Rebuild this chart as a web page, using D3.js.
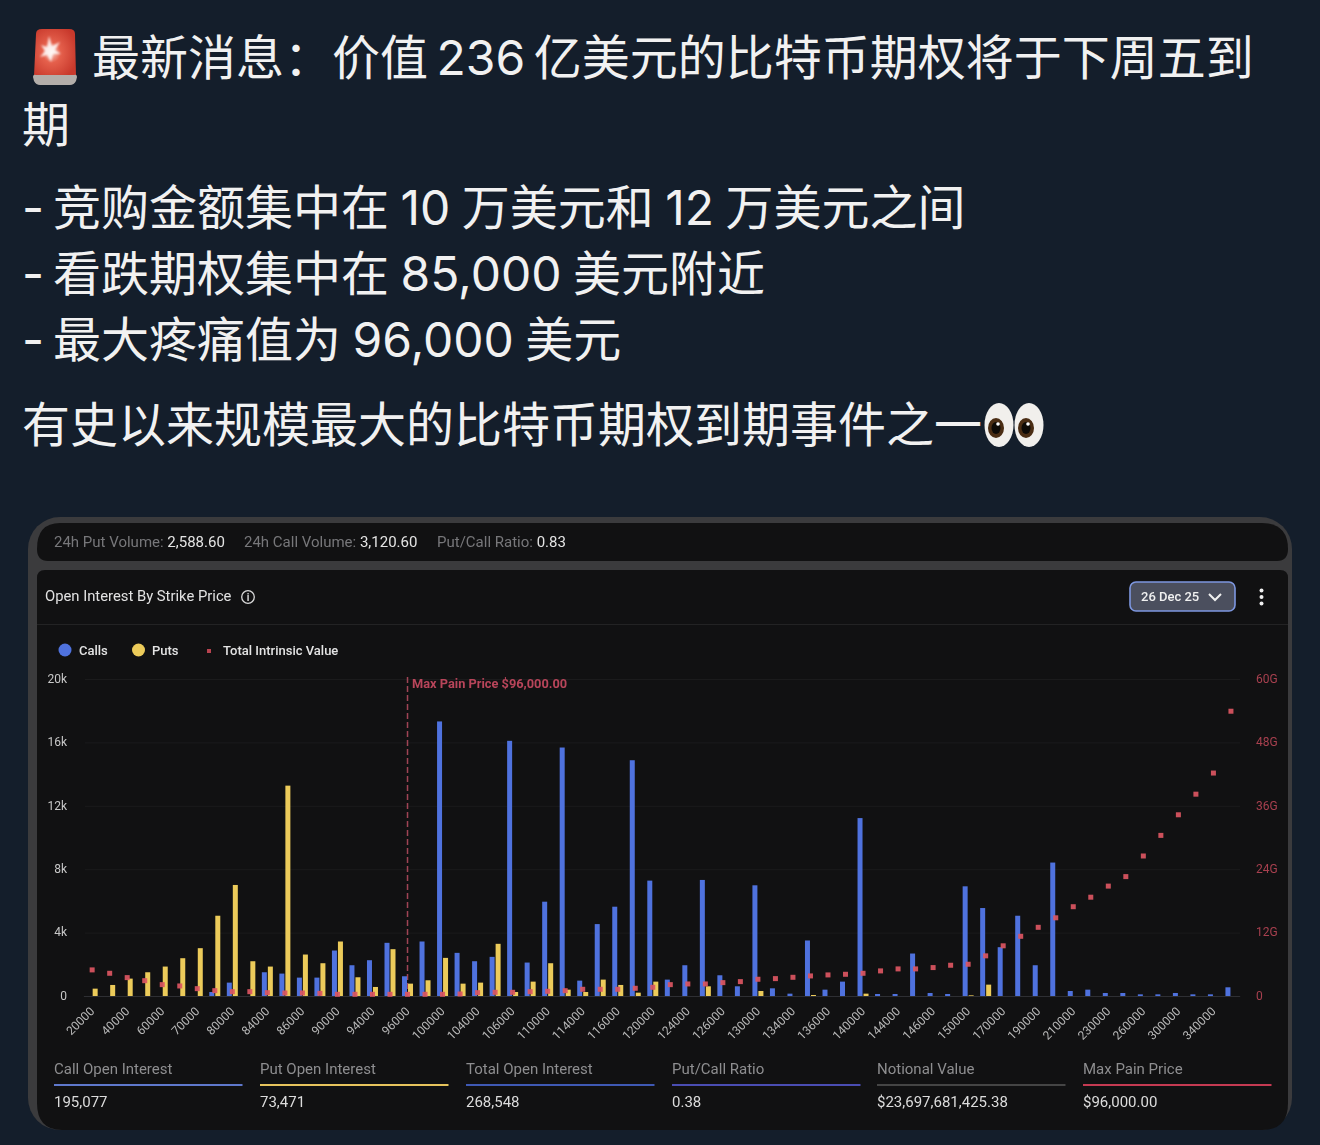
<!DOCTYPE html>
<html><head><meta charset="utf-8">
<script src="https://cdn.jsdelivr.net/npm/d3@7"></script>
<style>
html,body{margin:0;padding:0;background:#141e2b;overflow:hidden}
svg{display:block}
text{font-family:Roboto,"Noto Sans",sans-serif}
.cjk{font-family:Inter,"Noto Sans CJK SC",sans-serif;font-size:48px;font-weight:400;fill:#f1f1f1}
</style></head><body>
<svg id="c" width="1320" height="1145"></svg>
<script>
const strikes=["20000","30000","40000","50000","60000","65000","70000","75000","80000","82000","84000","85000","86000","88000","90000","92000","94000","95000","96000","98000","100000","102000","104000","105000","106000","108000","110000","112000","114000","115000","116000","118000","120000","122000","124000","125000","126000","128000","130000","132000","134000","135000","136000","138000","140000","142000","144000","145000","146000","148000","150000","160000","170000","180000","190000","200000","210000","220000","230000","240000","260000","280000","300000","320000","340000","360000"];
const calls=[0,0,0,0,0,0,0,253,844,0,1498,1414,1160,1160,2870,1941,2258,3355,1245,3439,17323,2722,2194,2469,16100,2110,5950,15677,970,4537,5634,14875,7280,1034,1941,7322,1308,612,6984,485,148,3503,400,907,11225,127,127,2680,190,127,6920,5550,3080,5064,1941,8419,316,400,190,190,105,105,190,105,105,549];
const puts=[464,696,1097,1498,1857,2384,3017,5064,7005,2194,1857,13272,2616,2068,3439,1182,570,2954,780,992,2405,780,844,3292,253,907,2068,400,253,1034,696,211,907,0,0,612,0,0,316,0,0,63,0,0,148,0,0,0,0,0,42,717,0,0,0,0,0,0,0,0,0,0,0,0,0,0];
const intrinsic=[4.94,4.3,3.48,2.9,2.15,1.9,1.39,1.01,.82,.82,.63,.57,.57,.5,.32,.32,.32,.32,.32,.32,.32,.38,.63,.7,.7,.82,.89,1.01,1.27,1.27,1.27,1.46,1.65,2.15,2.28,2.28,2.53,2.72,3.17,3.29,3.54,3.8,3.99,4.11,4.3,4.75,5.13,5.13,5.38,5.82,6.01,7.6,9.5,11.3,13.0,14.8,16.9,18.7,20.8,22.6,26.5,30.4,34.3,38.2,42.2,53.9];
const leftTicks=[0,4000,8000,12000,16000,20000];
const rightTicks=[0,12,24,36,48,60];
const headingLines=["最新消息：价值 236 亿美元的比特币期权将于下周五到","期","-","竞购金额集中在 10 万美元和 12 万美元之间","-","看跌期权集中在 85,000 美元附近","-","最大疼痛值为 96,000 美元","有史以来规模最大的比特币期权到期事件之一"];
const headingX=[92,22,22,53,22,53,22,53,22];
const headingY=[75,142,225,225,291,291,357,357,442];
const headingWordSpacing=[-5,0,0,-2,0,-2,0,-2,0];
const summaryLabels=["Call Open Interest","Put Open Interest","Total Open Interest","Put/Call Ratio","Notional Value","Max Pain Price"];
const summaryValues=["195,077","73,471","268,548","0.38","$23,697,681,425.38","$96,000.00"];
const summaryColors=["#5f78cc","#e6c35c","#3f59b4","#4a4db2","#454545","#c53a52"];
const summaryX=[54,260,466,672,877,1083];
const statLabels=["24h Put Volume:","24h Call Volume:","Put/Call Ratio:"];
const statValues=["2,588.60","3,120.60","0.83"];
const statX=[54,244,437];
const maxPain="96000";

const root=d3.select("#c");
const CALL="#4f72de",PUT="#eccb5a",RED="#dc5662";

// heading
root.selectAll("text.cjk").data(headingLines).join("text").attr("class","cjk")
  .attr("x",(d,i)=>headingX[i]).attr("y",(d,i)=>headingY[i])
  .attr("word-spacing",(d,i)=>headingWordSpacing[i]).text(d=>d);

// siren emoji
const defs=root.append("defs");
const soft=defs.append("filter").attr("id","soft").attr("x","-5%").attr("y","-5%").attr("width","110%").attr("height","110%").attr("color-interpolation-filters","sRGB");
soft.append("feGaussianBlur").attr("stdDeviation",0.45);
const soft2=defs.append("filter").attr("id","soft2").attr("color-interpolation-filters","sRGB");
soft2.append("feGaussianBlur").attr("stdDeviation",1.1);
const rg=defs.append("radialGradient").attr("id","sir").attr("cx","0.42").attr("cy","0.5").attr("r","0.62");
rg.append("stop").attr("offset","0").attr("stop-color","#f7c9bf");
rg.append("stop").attr("offset","0.35").attr("stop-color","#e5604c");
rg.append("stop").attr("offset","1").attr("stop-color","#c8392c");
const si=root.append("g");
si.append("path").attr("d","M36 34Q36 29 42 29H69Q75 29 75 34L76 76H34Z").attr("fill","url(#sir)");
si.append("path").attr("d","M33 77Q33 74 36 75H74Q77 74 77 77L76 81Q74 85 70 85H40Q36 85 34 81Z").attr("fill","#b3aeaa");
si.append("path").attr("d","M49 36L52 46L60 42L55 50L61 54L53 54L51 62L47 55L40 57L45 51L41 45L47 47Z").attr("fill","#fff").attr("opacity",.85).attr("filter","url(#soft2)");
// eyes emoji
[[999,425,13.5],[1029,425,13.5]].forEach(([x,y,r])=>{
  root.append("ellipse").attr("cx",x).attr("cy",y).attr("rx",r+1).attr("ry",22).attr("fill","#f1efec");
  root.append("ellipse").attr("cx",x-3).attr("cy",y+3).attr("rx",8).attr("ry",10).attr("fill","#4a2d14");
  root.append("ellipse").attr("cx",x-3).attr("cy",y+3).attr("rx",4.5).attr("ry",6).attr("fill","#0d0a07");
  root.append("circle").attr("cx",x-1).attr("cy",y-1).attr("r",1.8).attr("fill","#fff");
});

const svg=root.append("g").attr("filter","url(#soft)");
// panels
svg.append("rect").attr("x",28).attr("y",517).attr("width",1264).attr("height",613).attr("rx",32).attr("fill","#3b3b3d");
svg.append("path").attr("d","M37 549Q37 523 60 523H1262Q1288 523 1288 549Q1288 561 1277 561H48Q37 561 37 549Z").attr("fill","#111112");
svg.append("path").attr("d","M37 578Q37 570 45 570H1280Q1288 570 1288 578V1103Q1288 1130 1262 1130H62Q37 1130 37 1103Z").attr("fill","#111112");
svg.append("line").attr("x1",37).attr("x2",1288).attr("y1",624.5).attr("y2",624.5).attr("stroke","#232324");

// stats
const st=svg.selectAll("text.st").data(statLabels).join("text").attr("class","st")
  .attr("x",(d,i)=>statX[i]).attr("y",547).attr("font-size",15);
st.append("tspan").attr("fill","#77777a").text(d=>d+" ");
st.append("tspan").attr("fill","#e4e4e4").text((d,i)=>statValues[i]);

// header
svg.append("text").attr("x",45).attr("y",601).attr("font-size",14.8).attr("fill","#e2e2e2").text("Open Interest By Strike Price");
svg.append("circle").attr("cx",248).attr("cy",597).attr("r",6.3).attr("fill","none").attr("stroke","#d8d8d8").attr("stroke-width",1.3);
svg.append("text").attr("x",248).attr("y",601).attr("text-anchor","middle").attr("font-size",10).attr("font-weight",700).attr("fill","#d8d8d8").text("i");
svg.append("rect").attr("x",1130).attr("y",582).attr("width",105).attr("height",29).attr("rx",6).attr("fill","#4b4f5e").attr("stroke","#7d97e0").attr("stroke-width",1.6);
svg.append("text").attr("x",1141).attr("y",601).attr("font-size",13).attr("font-weight",500).attr("fill","#f0f0f0").text("26 Dec 25");
svg.append("path").attr("d","M1209 594L1215 600L1221 594").attr("fill","none").attr("stroke","#f0f0f0").attr("stroke-width",2);
[590.5,597,603.5].forEach(y=>svg.append("circle").attr("cx",1261.5).attr("cy",y).attr("r",2).attr("fill","#f0f0f0"));

// legend
svg.append("circle").attr("cx",65).attr("cy",650).attr("r",6.5).attr("fill",CALL);
svg.append("circle").attr("cx",138.5).attr("cy",650).attr("r",6.5).attr("fill",PUT);
svg.append("rect").attr("x",207).attr("y",649).attr("width",4).attr("height",4).attr("fill","#b8434f");
[["Calls",79],["Puts",152],["Total Intrinsic Value",223]].forEach(([t,x])=>
  svg.append("text").attr("x",x).attr("y",655).attr("font-size",13).attr("font-weight",500).attr("fill","#e4e4e4").text(t));

// scales
const x=d3.scaleBand().domain(strikes).range([83.4,1239.7]);
const y=d3.scaleLinear().domain([0,20000]).range([996,679]);
const yR=d3.scaleLinear().domain([0,60]).range([996,679]);
const cx=d=>x(d)+x.bandwidth()/2;

// grid
svg.append("g").selectAll("line").data(leftTicks.slice(1)).join("line")
  .attr("x1",85).attr("x2",1240).attr("y1",d=>y(d)+.5).attr("y2",d=>y(d)+.5).attr("stroke","#1b1b1c");

// left axis
const ax=svg.append("g").attr("transform","translate(72,-0.6)")
  .call(d3.axisLeft(y).tickValues(leftTicks).tickSize(0).tickPadding(5).tickFormat(d=>d?d/1000+"k":"0"));
ax.select(".domain").remove();
ax.selectAll("text").attr("font-size",12).attr("font-family","Roboto").attr("fill","#c8c8c8");
// right axis
const ar=svg.append("g").attr("transform","translate(1251,-0.6)")
  .call(d3.axisRight(yR).tickValues(rightTicks).tickSize(0).tickPadding(5).tickFormat(d=>d?d+"G":"0"));
ar.select(".domain").remove();
ar.selectAll("text").attr("font-size",12).attr("font-family","Roboto").attr("fill","#a8404f");
// bottom axis
const ab=svg.append("g").attr("transform","translate(0,996)")
  .call(d3.axisBottom(x).tickValues(strikes.filter((d,i)=>i%2===0)).tickSize(0).tickPadding(0));
ab.select(".domain").attr("stroke","#2e2f33");
ab.selectAll("text").attr("font-size",12).attr("font-family","Roboto").attr("fill","#b9b9b9")
  .attr("text-anchor","end").attr("dy",0).attr("transform","translate(3,16) rotate(-45)");

// max pain
svg.append("line").attr("x1",cx(maxPain)).attr("x2",cx(maxPain)).attr("y1",677).attr("y2",996)
  .attr("stroke","#a04455").attr("stroke-width",1.5).attr("stroke-dasharray","6 3");
svg.append("text").attr("x",412).attr("y",688).attr("font-size",12.8).attr("font-weight",700).attr("fill","#b8455a").text("Max Pain Price $96,000.00");

// bars
const bw=5;
svg.append("g").selectAll("rect").data(strikes.map((s,i)=>({s,v:calls[i]})).filter(d=>d.v>0)).join("rect")
  .attr("x",d=>cx(d.s)-3-bw/2).attr("width",bw).attr("y",d=>y(d.v)).attr("height",d=>y(0)-y(d.v)).attr("fill",CALL);
svg.append("g").selectAll("rect").data(strikes.map((s,i)=>({s,v:puts[i]})).filter(d=>d.v>0)).join("rect")
  .attr("x",d=>cx(d.s)+3-bw/2).attr("width",bw).attr("y",d=>y(d.v)).attr("height",d=>y(0)-y(d.v)).attr("fill",PUT);
// dots
svg.append("g").selectAll("rect").data(strikes.map((s,i)=>({s,v:intrinsic[i]}))).join("rect")
  .attr("x",d=>cx(d.s)-2.5).attr("y",d=>yR(d.v)-2.5).attr("width",5).attr("height",5).attr("fill",RED).attr("opacity",.92);

// summary
svg.selectAll("text.sl").data(summaryLabels).join("text").attr("class","sl")
  .attr("x",(d,i)=>summaryX[i]).attr("y",1074).attr("font-size",15).attr("fill","#8e8e90").text(d=>d);
svg.selectAll("line.sr").data(summaryColors).join("line").attr("class","sr")
  .attr("x1",(d,i)=>summaryX[i]).attr("x2",(d,i)=>summaryX[i]+188.5).attr("y1",1085).attr("y2",1085)
  .attr("stroke",d=>d).attr("stroke-width",2);
svg.selectAll("text.sv").data(summaryValues).join("text").attr("class","sv")
  .attr("x",(d,i)=>summaryX[i]).attr("y",1107).attr("font-size",15).attr("fill","#dcdcdc").text(d=>d);
</script>
</body></html>
